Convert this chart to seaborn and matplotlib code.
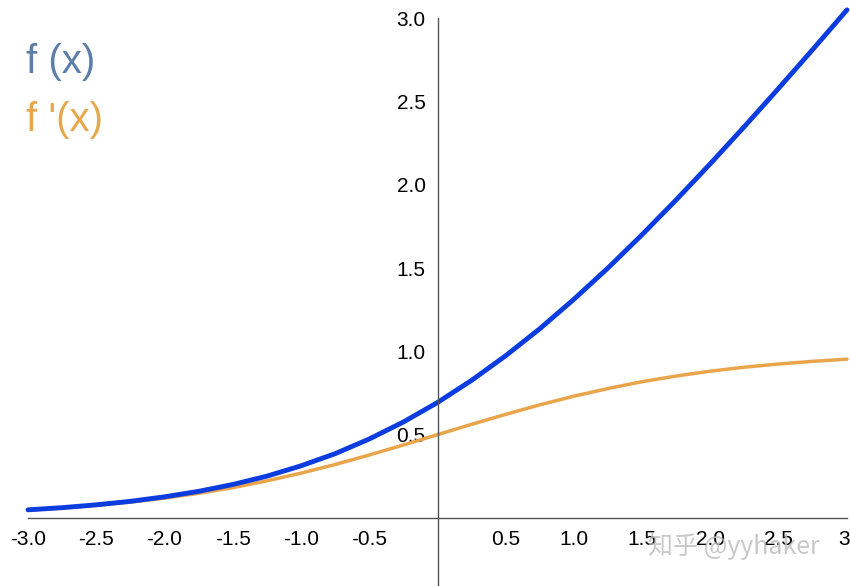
import matplotlib
matplotlib.use("Agg")
import matplotlib.pyplot as plt
import seaborn as sns
import pandas as pd

x_vals = [-3.0,-2.75,-2.5,-2.25,-2.0,-1.75,-1.5,-1.25,-1.0,-0.75,-0.5,-0.25,0.0,
          0.25,0.5,0.75,1.0,1.25,1.5,1.75,2.0,2.25,2.5,2.75,3.0]
f_vals = [0.049,0.062,0.079,0.100,0.127,0.160,0.201,0.251,0.313,0.386,0.474,0.576,0.693,
          0.826,0.974,1.136,1.313,1.501,1.701,1.910,2.127,2.350,2.579,2.812,3.049]
df_vals = [0.047,0.060,0.076,0.095,0.119,0.148,0.182,0.223,0.269,0.321,0.378,0.438,0.5,
           0.562,0.622,0.679,0.731,0.777,0.818,0.852,0.881,0.905,0.924,0.940,0.953]
x_ticks = [-3.0,-2.5,-2.0,-1.5,-1.0,-0.5,0.5,1.0,1.5,2.0,2.5,3.0]
x_labels = ["-3.0","-2.5","-2.0","-1.5","-1.0","-0.5","0.5","1.0","1.5","2.0","2.5","3."]
y_ticks = [0.5,1.0,1.5,2.0,2.5,3.0]
y_labels = ["0.5","1.0","1.5","2.0","2.5","3.0"]

sns.set_style("white")
plt.rcParams['font.family'] = ['Liberation Sans', 'Noto Sans CJK SC']
fig = plt.figure(figsize=(8.5, 5.86), dpi=100)
ax = fig.add_axes([28/850, 0, (847-28)/850, 1-18/586])
df = pd.DataFrame({"x": x_vals, "f": f_vals, "d": df_vals})
sns.lineplot(data=df, x="x", y="d", ax=ax, color="#e8a54a", lw=2.5, clip_on=False)
sns.lineplot(data=df, x="x", y="f", ax=ax, color="#0a3ce0", lw=3.5, clip_on=False,
             solid_joinstyle="round", solid_capstyle="round")
ax.set_xlim(-3, 3)
ax.set_ylim(-3*68/500, 3.0)
for s in ["top", "right"]:
    ax.spines[s].set_visible(False)
ax.spines["left"].set_position(("data", 0))
ax.spines["bottom"].set_position(("data", 0))
for s in ["left", "bottom"]:
    ax.spines[s].set_color("#555555")
    ax.spines[s].set_linewidth(1)
ax.set_xticks(x_ticks, x_labels, fontsize=15)
ax.set_yticks(y_ticks, y_labels, fontsize=15)
ax.tick_params(axis="both", direction="out", length=5, color="#555555", labelcolor="black")
ax.set_xlabel(""); ax.set_ylabel("")
fig.text(26/850, 1-62/586, "f (x)", fontsize=29, color="#5b7faa", va="center")
fig.text(26/850, 1-120/586, "f '(x)", fontsize=29, color="#e8a74a", va="center")
fig.text(648/850, 1-546/586, "知乎 @yyhaker", fontsize=18, color="#bbbbbb", alpha=0.8,
         va="center", family=['Noto Sans CJK SC', 'DejaVu Sans'])
fig.savefig("out.png", dpi=100)
